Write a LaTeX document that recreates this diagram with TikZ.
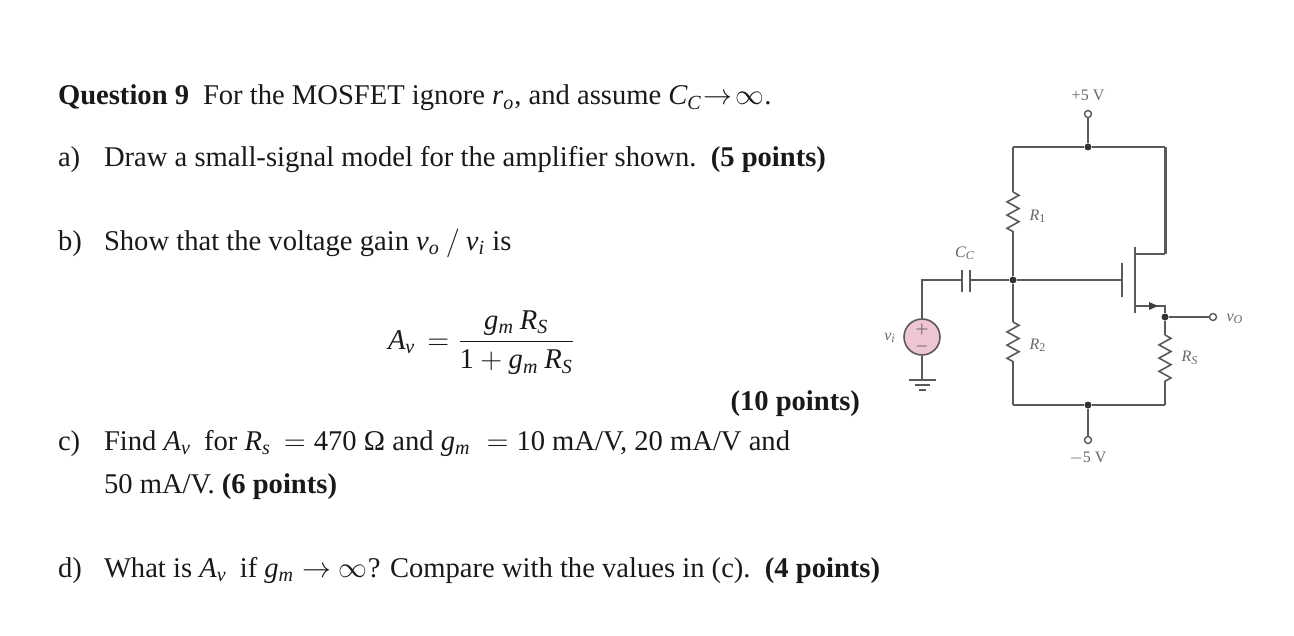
\documentclass[tikz,border=0pt]{standalone}
\usepackage{amsmath}
\usepackage{mathspec}
\setmainfont{Liberation Serif}
\setmathfont(Digits,Latin,Greek){Liberation Serif}
\setmathrm{Liberation Serif}
\usetikzlibrary{arrows.meta}
\usetikzlibrary{decorations.pathmorphing}
\definecolor{wirecol}{HTML}{5A5A5A}
\definecolor{srcfill}{HTML}{EDC6D2}
\tikzstyle{line} = [anchor=base west, inner sep=0pt, outer sep=0pt, text=black!90, font=\fontsize{14.3}{17}\selectfont]
\tikzstyle{wire} = [draw=wirecol, line width=0.8pt]
\tikzstyle{heavy} = [draw=wirecol, line width=1.2pt]
\tikzstyle{res} = [wire, decorate, decoration={zigzag, segment length=6.6pt, amplitude=3pt}]
\tikzstyle{term} = [circle, draw=wirecol, fill=white, line width=0.7pt, inner sep=0pt, minimum size=3.5pt]
\tikzstyle{dot} = [circle, fill=black!80, inner sep=0pt, minimum size=3.5pt]
\tikzstyle{val} = [inner sep=0pt, text=black!60, font=\fontsize{8}{9}\selectfont]
\begin{document}
\begin{tikzpicture}[x=0.5pt, y=-0.5pt]
		\useasboundingbox (0,0) rectangle (1294,636);

		% Question text
		\node[line] (qhead) at (58,105) {\textbf{Question 9}};
		\node[line] (qtext) at (203,105) {For the MOSFET ignore $r_o$, and assume $C_C\hspace{1pt}{\rightarrow}\hspace{1.5pt}\infty$.};
		\node[line] (alab) at (58,167) {a)};
		\node[line] (atext) at (104,167) {Draw a small-signal model for the amplifier shown.\ \ \textbf{(5 points)}};
		\node[line] (blab) at (58,250) {b)};
		\node[line] (btext) at (104,250) {Show that the voltage gain $v_o\hspace{3pt}/\hspace{3pt}v_i$ is};
		\node[line] (gain) at (388,349) {$A_v\hspace{2pt} = \dfrac{g_m\hspace{3pt}R_S}{1 + g_m\hspace{3pt}R_S}$};
		\node[line, anchor=base east] (bpts) at (860,410) {\textbf{(10 points)}};
		\node[line] (clab) at (58,450) {c)};
		\node[line] (ctext) at (104,450) {Find $A_v$\hspace{3pt} for $R_s\hspace{2.5pt} = 470~\Omega$ and $g_m\hspace{4pt} = 10$ mA/V, 20 mA/V and};
		\node[line] (ctwo) at (104,493) {50 mA/V. \textbf{(6 points)}};
		\node[line] (dlab) at (58,577) {d)};
		\node[line] (dtext) at (104,577) {What is $A_v$\hspace{3pt} if $g_m \rightarrow \infty$? Compare with the values in (c).\ \ \textbf{(4 points)}};

		% Junctions and terminals
		\node[dot] (top) at (1088,147) {};
		\node[dot] (bot) at (1088,405) {};
		\node[dot] (gatej) at (1013,280) {};
		\node[dot] (srcj) at (1165,317) {};
		\node[term] (vdd) at (1088,114) {};
		\node[term] (vss) at (1088,440) {};
		\node[term] (vout) at (1213,317) {};
		\coordinate (topl) at (1013,147);
		\coordinate (topr) at (1165,147);
		\coordinate (botl) at (1013,405);
		\coordinate (botr) at (1165,405);

		% Resistors
		\coordinate (Ra) at (1013,192);
		\coordinate (Rb) at (1013,238);
		\coordinate (Rc) at (1013,322);
		\coordinate (Rd) at (1013,368);
		\coordinate (Re) at (1165,335);
		\coordinate (Rf) at (1165,382);
		\draw[res] (Ra) -- (Rb);
		\draw[res] (Rc) -- (Rd);
		\draw[res] (Re) -- (Rf);

		% Supply rails
		\draw[wire] (vdd) -- (top);
		\draw[heavy] (topl) -- (top) -- (topr);
		\draw[wire] (topl) -- (Ra);
		\draw[wire] (Rb) -- (gatej) -- (Rc);
		\draw[wire] (Rd) -- (botl);
		\draw[heavy] (botl) -- (bot) -- (botr);
		\draw[wire] (botr) -- (Rf);
		\draw[wire] (bot) -- (vss);

		% MOSFET
		\coordinate (chtop) at (1135,247);
		\coordinate (chbot) at (1135,313);
		\coordinate (gtop) at (1122,263);
		\coordinate (gbot) at (1122,297);
		\coordinate (gmid) at (1122,280);
		\coordinate (drain) at (1135,254);
		\coordinate (drainr) at (1165,254);
		\coordinate (source) at (1135,306);
		\coordinate (sourcer) at (1165,306);
		\draw[heavy] (chtop) -- (chbot);
		\draw[heavy] (gtop) -- (gbot);
		\draw[wire] (gatej) -- (gmid);
		\draw[wire] (drain) -- (drainr);
		\draw[heavy, line width=1.5pt] (topr) -- (drainr);
		\draw[wire] (source) -- (sourcer) -- (srcj) -- (Re);
		\draw[wire] (srcj) -- (vout);
		\fill[wirecol!70!black] (1158,306) -- (1149,302) -- (1149,310) -- cycle;

		% Input source and coupling capacitor
		\node[circle, fill=srcfill, draw=wirecol, line width=0.8pt, minimum size=18pt, inner sep=0pt] (vsrc) at (922,337) {};
		\node[val, text=black!70] (plus) at (922,329) {$+$};
		\node[val, text=black!70] (minus) at (922,346) {$-$};
		\coordinate (corner) at (922,280);
		\coordinate (capl) at (962,280);
		\coordinate (capr) at (970,280);
		\draw[wire] (vsrc) -- (corner) -- (capl);
		\draw[wire] (capr) -- (gatej);
		\draw[heavy] (962,270) -- (962,292);
		\draw[heavy] (970,270) -- (970,292);

		% Ground
		\coordinate (gnd) at (922,380);
		\draw[wire] (vsrc) -- (gnd);
		\draw[wire] (909,380) -- (936,380);
		\draw[wire] (915,385) -- (930,385);
		\draw[wire] (919,390) -- (926,390);

		% Circuit labels
		\node[val] (lvdd) at (1088,95) {+5 V};
		\node[val] (lvss) at (1088,458) {$-$5 V};
		\node[val] (lra) at (1038,216) {$R_1$};
		\node[val] (lrb) at (1038,345) {$R_2$};
		\node[val] (lrs) at (1190,358) {$R_S$};
		\node[val] (lcc) at (965,253) {$C_C$};
		\node[val] (lvi) at (890,338) {$v_i$};
		\node[val] (lvo) at (1235,319) {$v_O$};
\end{tikzpicture}
\end{document}
